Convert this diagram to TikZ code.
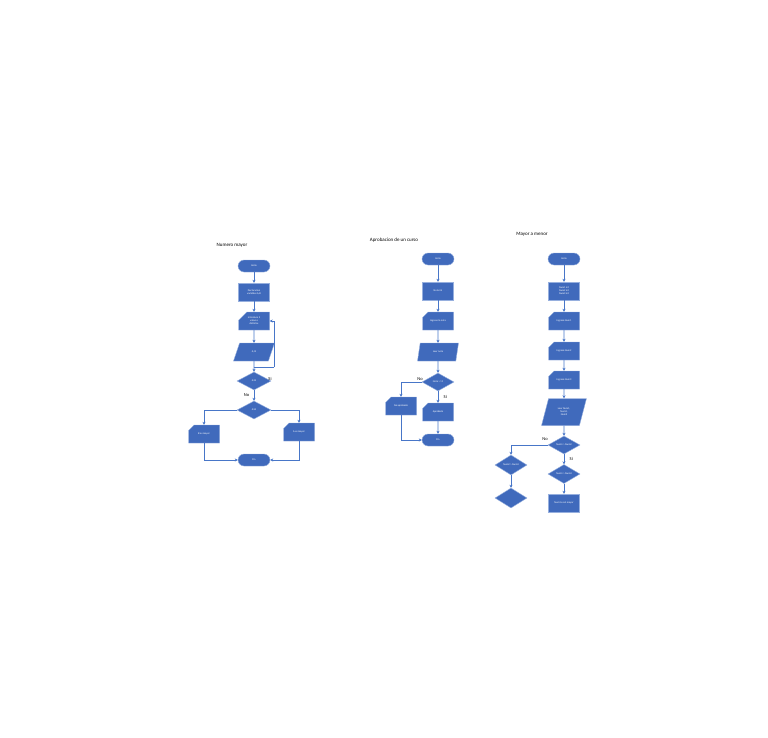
\documentclass[tikz,border=0pt]{standalone}
\usepackage{fontspec}
\setmainfont{Carlito}
\usetikzlibrary{shapes.geometric,shapes.misc,arrows.meta}
\definecolor{BoxBlue}{RGB}{64,106,188}
\definecolor{LineBlue}{RGB}{72,118,200}
\definecolor{BoxEdge}{RGB}{150,175,222}

\begin{document}
\begin{tikzpicture}[x=1pt,y=-1pt,
  base/.style={fill=BoxBlue,draw=BoxEdge,line width=.4pt,text=white,align=center,
    inner sep=0pt,font=\fontsize{2.6}{3}\selectfont},
  term/.style={base,rectangle,rounded corners=6pt,minimum width=32pt,minimum height=12pt},
  proc/.style={base,rectangle,minimum width=31pt,minimum height=18pt},
  manin/.style={base,chamfered rectangle,chamfered rectangle corners=north west,
    chamfered rectangle xsep=6pt,chamfered rectangle ysep=4.5pt,minimum width=31pt,minimum height=18pt},
  io/.style={base,trapezium,trapezium left angle=66,trapezium right angle=114,
    trapezium stretches=true,minimum width=41pt,minimum height=18pt},
  dec/.style={base,diamond,minimum width=34pt,minimum height=18pt},
  line/.style={draw=LineBlue,line width=.8pt,-{Stealth[length=3pt,width=3pt]}},
  seg/.style={draw=LineBlue,line width=.8pt},
  title/.style={font=\fontsize{5}{6}\selectfont},
  lab/.style={font=\fontsize{4.5}{5}\selectfont}]
\useasboundingbox (0,0) rectangle (768,738);

\node[title] (t1) at (232,245) {Numero mayor};
\node[term] (ini1) at (254,266) {Inicio};
\node[proc] (decl1) at (254,292) {Declaracion\\variables A,B};
\node[manin] (intro1) at (254,321) {Introduce 2\\valores\\distintos};
\node[io] (ab1) at (254,352) {A, B};
\node[dec] (igual1) at (254,381) {A=B};
\node[dec] (mayor1) at (254,410) {A>B};
\node[manin] (bmay1) at (204,434) {B es mayor};
\node[manin] (amay1) at (299,432) {A es mayor};
\node[term] (fin1) at (254,460) {Fin};
\coordinate (lp) at (254,367);
\coordinate (lpc) at (274,367);

\draw[line] (ini1) -- (decl1);
\draw[line] (decl1) -- (intro1);
\draw[line] (intro1) -- (ab1);
\draw[line] (ab1) -- (igual1);
\draw[seg] (lp) -- (lpc);
\draw[line] (lpc) |- (intro1.east);
\node[lab] at (270,379) {Si};
\draw[line] (igual1) -- (mayor1) node[lab,pos=.45,left=1pt] {No};
\draw[line] (mayor1.west) -| (bmay1.north);
\draw[line] (mayor1.east) -| (amay1.north);
\draw[line] (bmay1.south) |- (fin1.west);
\draw[line] (amay1.south) |- (fin1.east);

\node[title] (t2) at (394,240) {Aprobacion de un curso};
\node[term] (ini2) at (438,259) {Inicio};
\node[proc] (nota2) at (438,291) {Nota int};
\node[manin] (ingr2) at (438,321) {Ingrese la nota};
\node[io] (leer2) at (438,352) {Leer nota};
\node[dec,minimum width=32pt] (dec2) at (438,382) {Nota > 11};
\node[manin] (noap2) at (401,406) {No aprobado};
\node[manin] (apr2) at (438,412) {Aprobado};
\node[term] (fin2) at (438,440) {Fin};

\draw[line] (ini2) -- (nota2);
\draw[line] (nota2) -- (ingr2);
\draw[line] (ingr2) -- (leer2);
\draw[line] (leer2) -- (dec2);
\draw[line] (dec2.west) -| (noap2.north);
\node[lab] at (420,379) {No};
\draw[line] (dec2) -- (apr2) node[lab,midway,right=2pt] {Si};
\draw[line] (apr2) -- (fin2);
\draw[line] (noap2.south) |- (fin2.west);

\node[title] (t3) at (532,234) {Mayor a menor};
\node[term] (ini3) at (564,259) {Inicio};
\node[proc] (decl3) at (564,291) {Num1 int\\Num2 int\\Num3 int};
\node[manin] (in13) at (564,321) {Ingresa Num1};
\node[manin] (in23) at (564,351) {Ingresa Num2};
\node[manin] (in33) at (564,380) {Ingresa Num3};
\node[io,minimum width=45pt,minimum height=27pt,trapezium left angle=70,trapezium right angle=110] (leer3) at (564,412) {Leer Num1,\\Num2,\\Num3};
\node[dec,minimum width=32pt] (d13) at (564,445) {Num1 > Num2};
\node[dec,minimum width=32pt,minimum height=20pt] (d23) at (511,465) {Num2 > Num3};
\node[dec,minimum width=32pt,minimum height=19pt] (d33) at (564,474) {Num1 > Num3};
\node[proc] (res3) at (564,503) {Num1 es el mayor};
\node[dec,minimum width=32pt,minimum height=20pt] (blank3) at (511,498) {};

\draw[line] (ini3) -- (decl3);
\draw[line] (decl3) -- (in13);
\draw[line] (in13) -- (in23);
\draw[line] (in23) -- (in33);
\draw[line] (in33) -- (leer3);
\draw[line] (leer3) -- (d13);
\draw[line] (d13.west) -| (d23.north);
\node[lab] at (545,439) {No};
\draw[line] (d13) -- (d33) node[lab,midway,right=2pt] {Si};
\draw[line] (d33) -- (res3);
\draw[line] (d23) -- (blank3);
\end{tikzpicture}
\end{document}
